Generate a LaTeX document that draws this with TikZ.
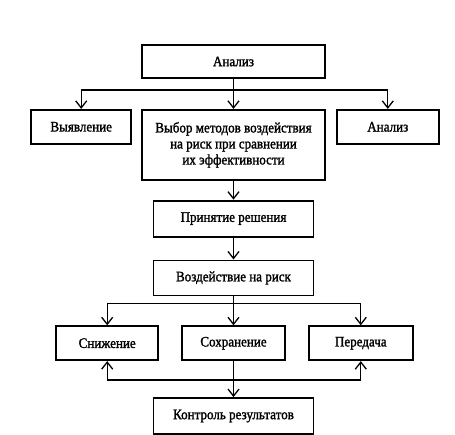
\documentclass[tikz,border=0pt]{standalone}
\usepackage{fontspec}
\setmainfont{Liberation Serif}[FakeStretch=0.9,FakeBold=1.5]
\usetikzlibrary{arrows.meta}
\usetikzlibrary{positioning}
\tikzstyle{block} = [draw, line width=1.8pt, align=center, inner sep=2pt,
font=\fontsize{14.5}{16}\selectfont, minimum height=34pt]
\tikzstyle{line} = [draw, line width=1.3pt, -{Straight Barb[length=7pt,width=11pt,line width=1.3pt]}]

\begin{document}
\begin{tikzpicture}
	\useasboundingbox (0,0) rectangle (455pt,-434pt);
	\node [block, minimum width=183pt, minimum height=33pt] (Top) at (233.5pt,-61.5pt) {Анализ};
	\node [block, below=30pt of Top, minimum width=183pt, minimum height=70pt] (Choice) {Выбор методов воздействия\\на риск при сравнении\\их эффективности};
	\node [block, left=9pt of Choice.north west, anchor=north east, minimum width=100pt] (Detect) {Выявление};
	\node [block, right=10pt of Choice.north east, anchor=north west, minimum width=102pt] (Study) {Анализ};
	\node [block, below=19pt of Choice, minimum width=160pt, minimum height=36pt] (Decision) {Принятие решения};
	\node [block, below=22pt of Decision, minimum width=160pt, minimum height=35pt] (Impact) {Воздействие на риск};
	\node [block, below=29pt of Impact, minimum width=103pt] (Keep) {Сохранение};
	\node [block, left=22pt of Keep, minimum width=102pt] (Reduce) {Снижение};
	\node [block, right=22pt of Keep, minimum width=104pt] (Transfer) {Передача};
	\node [block, below=36pt of Keep, minimum width=160pt, minimum height=36pt] (Control) {Контроль результатов};
	\coordinate[below=11pt of Top] (h1);
	\coordinate[below=7pt of Impact] (h2);
	\coordinate[below=19pt of Keep] (h3);
	%% Flows
	\path [line] (Top) -- (Choice);
	\path [line] (h1) -| (Detect);
	\path [line] (h1) -| (Study);
	\path [line] (Choice) -- (Decision);
	\path [line] (Decision) -- (Impact);
	\path [line] (Impact) -- (Keep);
	\path [line] (h2) -| (Reduce);
	\path [line] (h2) -| (Transfer);
	\path [line] (Keep) -- (Control);
	\path [line] (h3) -| (Reduce);
	\path [line] (h3) -| (Transfer);
\end{tikzpicture}
\end{document}
